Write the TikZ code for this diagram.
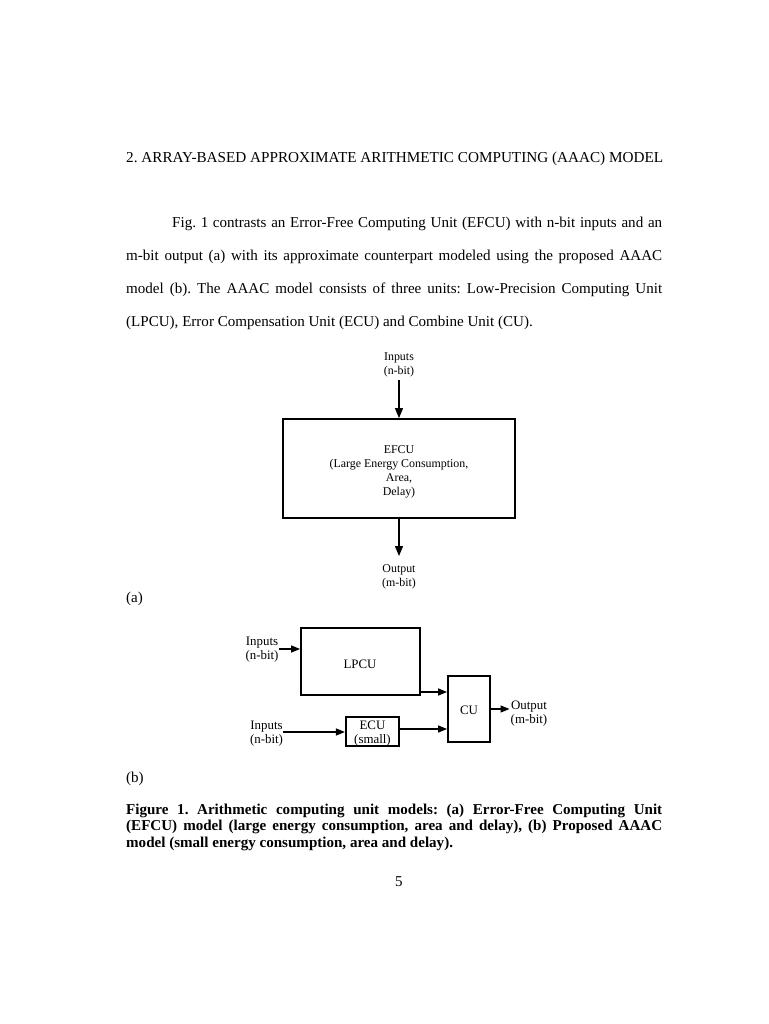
\documentclass[tikz,border=0pt]{standalone}
\usepackage{fontspec}
\setmainfont{Liberation Serif}
\usetikzlibrary{arrows.meta}
\frenchspacing
\begin{document}
\begin{tikzpicture}[x=1pt,y=-1pt,
  body/.style={inner sep=0pt, font=\fontsize{15.06}{33}\selectfont\frenchspacing},
  para/.style={body, text width=536pt, align=justify, anchor=base west},
  captext/.style={inner sep=0pt, text width=536pt, align=justify, anchor=base west, font=\fontsize{15.06}{16.8}\selectfont\bfseries\frenchspacing},
  figa/.style={inner sep=0pt, align=center, font=\fontsize{11.9}{14}\selectfont},
  figb/.style={inner sep=0pt, align=center, font=\fontsize{12.9}{14}\selectfont},
  unitbox/.style={draw, line width=1.8pt, inner sep=0pt, align=center},
  arr/.style={line width=1.4pt, -{Triangle[length=10pt,width=8pt]}},
  arrs/.style={line width=1.3pt, -{Triangle[length=9pt,width=7pt]}}
]
\useasboundingbox (0,0) rectangle (768,1024);
\fill[white] (0,0) rectangle (768,1024);

% heading and paragraph
\node[body, anchor=base west, font=\fontsize{15.2}{33}\selectfont] (head) at (126,163) {2. ARRAY-BASED APPROXIMATE ARITHMETIC COMPUTING (AAAC) MODEL};
\node[para] (par) at (126,227.5) {\hspace*{46pt}Fig. 1 contrasts an Error-Free Computing Unit (EFCU) with n-bit inputs and an\linebreak
m-bit output (a) with its approximate counterpart modeled using the proposed AAAC\linebreak
model (b). The AAAC model consists of three units: Low-Precision Computing Unit\linebreak
(LPCU), Error Compensation Unit (ECU) and Combine Unit (CU).};

% figure (a)
\node[figa, anchor=base] (ina) at (399,374) {Inputs\\(n-bit)};
\node[unitbox, minimum width=232pt, minimum height=99pt] (efcu) at (399,468.5) {};
\node[figa, anchor=base] (efcut) at (399,495) {EFCU\\(Large Energy Consumption,\\Area,\\Delay)};
\node[figa, anchor=base] (outa) at (399,586) {Output\\(m-bit)};
\coordinate (inaS) at (399,380);
\coordinate (outaN) at (399,556);
\draw[arr] (inaS) -- (efcu.north);
\draw[arr] (efcu.south) -- (outaN);
\node[body, anchor=base west] (la) at (126,602) {(a)};

% figure (b)
\node[unitbox, minimum width=119pt, minimum height=67pt] (lpcu) at (360.5,661.5) {};
\node[figb, anchor=base] (lpcut) at (360,668) {LPCU};
\node[unitbox, minimum width=42pt, minimum height=66pt] (cu) at (469,709) {};
\node[figb, anchor=base] (cut) at (469,714) {CU};
\node[unitbox, line width=2.2pt, minimum width=53pt, minimum height=29pt] (ecu) at (372.5,731.5) {};
\node[figb, anchor=base] (ecut) at (372.5,743) {ECU\\(small)};

\node[figb, anchor=base] (inb1) at (262,659) {Inputs\\(n-bit)};
\node[figb, anchor=base] (inb2) at (266.5,743) {Inputs\\(n-bit)};
\node[figb, anchor=base] (outb) at (529,723) {Output\\(m-bit)};

\coordinate (inb1E) at (279,649);
\coordinate (inb2E) at (283,732);
\coordinate (lpcuO) at (420,692);
\coordinate (ecuO) at (399,729);
\coordinate (cuO) at (490,709);
\coordinate (outbW) at (509.5,709);
\draw[arrs] (inb1E) -- (inb1E -| lpcu.west);
\draw[arrs] (inb2E) -- (inb2E -| ecu.west);
\draw[arrs] (lpcuO) -- (lpcuO -| cu.west);
\draw[arrs] (ecuO) -- (ecuO -| cu.west);
\draw[arrs] (cuO) -- (outbW);
\node[body, anchor=base west] (lb) at (126,782) {(b)};

% caption and page number
\node[captext] (caption) at (126,814) {Figure 1. Arithmetic computing unit models: (a) Error-Free Computing Unit\linebreak
(EFCU) model (large energy consumption, area and delay), (b) Proposed AAAC\linebreak
model (small energy consumption, area and delay).};
\node[body, anchor=base] (pnum) at (399,886) {5};
\end{tikzpicture}
\end{document}
